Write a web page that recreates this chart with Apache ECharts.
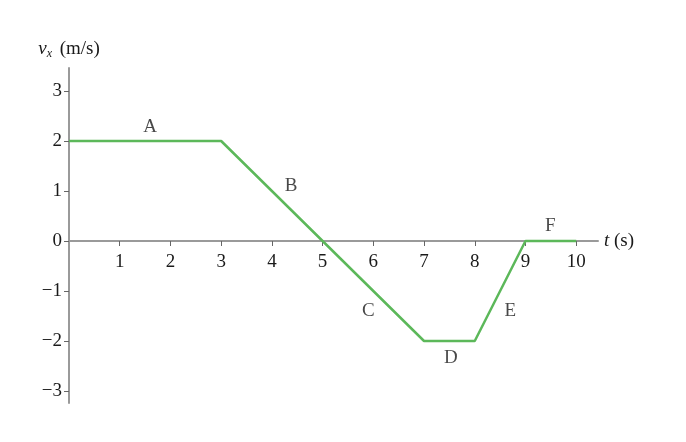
<!DOCTYPE html>
<html><head><meta charset="utf-8">
<script src="https://cdn.jsdelivr.net/npm/echarts@6/dist/echarts.min.js"></script>
<style>html,body{margin:0;padding:0;background:#fff}#c{width:686px;height:442px}</style>
</head><body><div id="c"></div>
<script>
var times = [0, 3, 7, 8, 9, 10];
var velocities = [2, 2, -2, -2, 0, 0];
var segLabels = ['A', 'B', 'C', 'D', 'E', 'F'];
var labelX = [1.6, 4.38, 5.9, 7.53, 8.7, 9.49];
var labelY = [2.28, 1.1, -1.4, -2.34, -1.4, 0.3];
var xTicks = [1, 2, 3, 4, 5, 6, 7, 8, 9, 10];
var yTicks = [-3, -2, -1, 0, 1, 2, 3];

var font = 'Liberation Serif';
var ink = '#1a1a1a';
var fs = 19;
var yMin = -3.24, yMax = 3.46, gridTop = 68, gridH = 335;
var zeroOffset = -gridH * (0 - yMin) / (yMax - yMin);

var chart = echarts.init(document.getElementById('c'));
chart.setOption({
  backgroundColor: '#fff',
  animation: false,
  grid: {left: 69, top: gridTop, width: 529, height: gridH, containLabel: false},
  xAxis: {
    type: 'value', min: 0, max: 10.43, position: 'bottom', offset: zeroOffset,
    name: '{i|t} (s)', nameLocation: 'end', nameGap: 6,
    nameTextStyle: {fontFamily: font, fontSize: fs, color: ink, rich: {i: {fontStyle: 'italic', fontFamily: font, fontSize: fs, color: ink}}},
    axisLine: {onZero: false, lineStyle: {color: '#9a9a9a', width: 2}},
    axisTick: {show: true, inside: false, length: 5, customValues: xTicks, lineStyle: {color: '#666', width: 1}},
    axisLabel: {customValues: xTicks, fontFamily: font, fontSize: fs, color: ink, margin: 12},
    splitLine: {show: false}
  },
  yAxis: {
    type: 'value', min: yMin, max: yMax,
    name: '{i|v}{s|x} (m/s)', nameLocation: 'end', nameGap: 8,
    nameTextStyle: {fontFamily: font, fontSize: fs, color: ink, align: 'center',
      rich: {i: {fontStyle: 'italic', fontFamily: font, fontSize: fs, color: ink},
             s: {fontStyle: 'italic', fontFamily: font, fontSize: 12, color: ink, padding: [10, 3, 0, 0]}}},
    axisLine: {show: true, onZero: false, lineStyle: {color: '#9a9a9a', width: 2}},
    axisTick: {show: true, inside: false, length: 5, customValues: yTicks, lineStyle: {color: '#666', width: 1}},
    axisLabel: {customValues: yTicks, fontFamily: font, fontSize: fs, color: ink, margin: 7,
      formatter: function (v) { return v < 0 ? '\u2212' + Math.abs(v) : String(v); }},
    splitLine: {show: false}
  },
  series: [
    {
      type: 'line', data: times.map(function (t, i) { return [t, velocities[i]]; }),
      symbol: 'none', lineStyle: {color: '#5cb85a', width: 2.5}, z: 3
    },
    {
      type: 'scatter', symbolSize: 0,
      data: labelX.map(function (x, i) { return {value: [x, labelY[i]], name: segLabels[i]}; }),
      label: {show: true, position: 'inside', formatter: '{b}', fontFamily: font, fontSize: fs, color: ink},
      z: 4
    }
  ]
});
</script></body></html>
